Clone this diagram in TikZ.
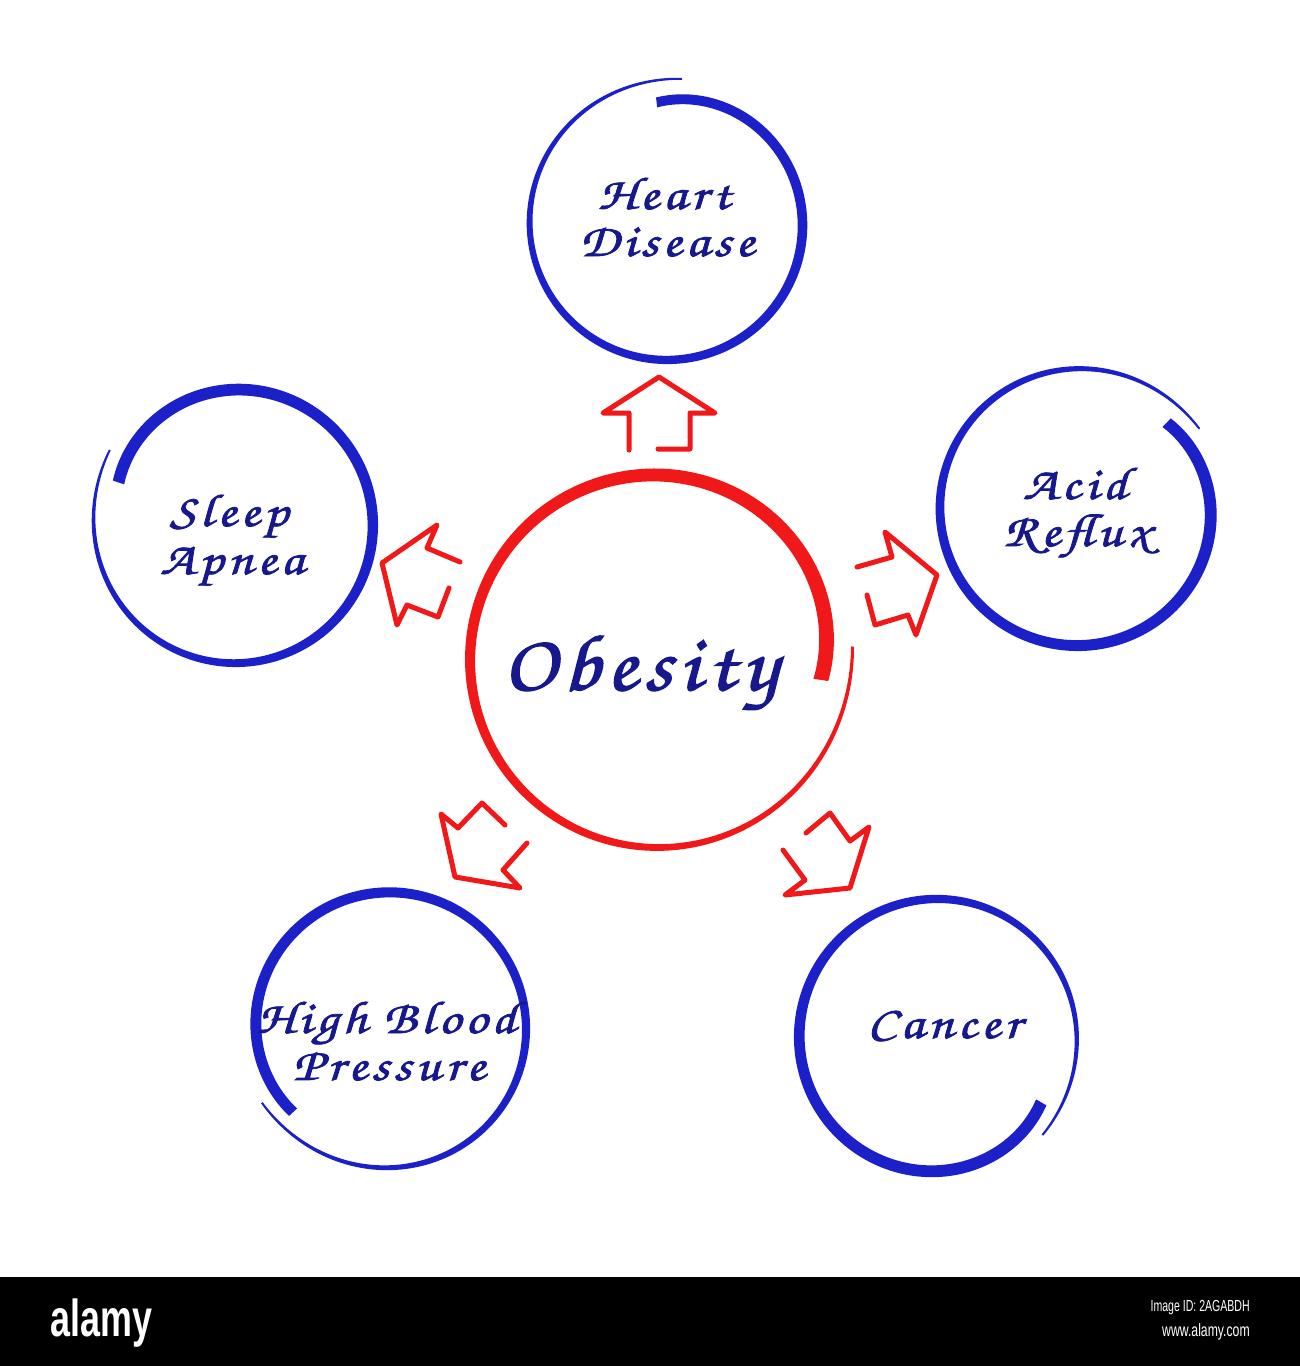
\documentclass[tikz,border=0pt]{standalone}
\usepackage{fontspec}
\newfontfamily\chorus{texgyrechorus-mediumitalic.otf}[FakeBold=1.6, LetterSpace=8]
\newfontfamily\wmfont{Liberation Sans}
\definecolor{ringblue}{RGB}{28,32,200}
\definecolor{txtblue}{RGB}{22,24,140}
\definecolor{ringred}{RGB}{240,24,24}
\def\taper{2.2}
% #1 cx, #2 cy, #3 start angle, #4 sweep, #5 radius, #6 inward start, #7 outward end, #8 start width, #9 end width
\newcommand{\brushring}[9]{%
  \fill[\ringcol] plot[smooth, domain=0:1, samples=160, variable=\t]
    ({#1 + (#5 - #6*pow(1-\t,8) + #7*pow(\t,10) + (#8 + (#9-#8)*pow(\t,\taper))/2)*cos(#3 + #4*\t)},
     {#2 - (#5 - #6*pow(1-\t,8) + #7*pow(\t,10) + (#8 + (#9-#8)*pow(\t,\taper))/2)*sin(#3 + #4*\t)})
    -- plot[smooth, domain=1:0, samples=160, variable=\t]
    ({#1 + (#5 - #6*pow(1-\t,8) + #7*pow(\t,10) - (#8 + (#9-#8)*pow(\t,\taper))/2)*cos(#3 + #4*\t)},
     {#2 - (#5 - #6*pow(1-\t,8) + #7*pow(\t,10) - (#8 + (#9-#8)*pow(\t,\taper))/2)*sin(#3 + #4*\t)})
    -- cycle;}
\tikzset{
  lbl/.style={font=\chorus\fontsize{23}{23}\selectfont, text=txtblue, anchor=base, inner sep=0pt,
    xscale=1.2, text height=0.62em, text depth=0.12em},
  bigl/.style={font=\chorus\fontsize{40}{40}\selectfont, text=txtblue, anchor=base, inner sep=0pt,
    xscale=1.1, text height=0.62em, text depth=0.12em},
  blockarrow/.style={draw=ringred, line width=2.5pt, line join=round, line cap=round},
  wm/.style={text=white, inner sep=0pt}
}
\begin{document}
\begin{tikzpicture}[x=0.5pt, y=-0.5pt]
\useasboundingbox (0,0) rectangle (1300,1366);
\fill[white] (0,0) rectangle (1300,1366);

% rings
\def\ringcol{ringblue}
\brushring{667}{223}{95}{-371}{137}{16}{8}{10}{2}
\brushring{235}{525}{160}{-371}{138}{14}{8}{12}{2}
\brushring{1078}{508}{44}{-371}{138}{15}{7}{12}{2}
\brushring{389}{1029}{221}{-371}{137}{10}{10}{11}{2}
\brushring{937}{1037}{-32}{-371}{138}{15}{6}{12}{2}
\def\ringcol{ringred}
\def\taper{1.3}
\brushring{657}{660}{-7}{371}{187}{22}{9}{15}{3}

% centres
\coordinate (cHeart) at (667,223);
\coordinate (cSleep) at (235,525);
\coordinate (cAcid) at (1078,508);
\coordinate (cHBP) at (389,1029);
\coordinate (cCancer) at (937,1037);
\coordinate (cObesity) at (657,660);

% labels
\node[lbl] (heart1) at (664,209) {Heart};
\node[lbl] (heart2) at (667,256) {Disease};
\node[lbl] (sleep1) at (229,526) {Sleep};
\node[lbl] (sleep2) at (232,574) {Apnea};
\node[lbl] (acid1) at (1075,499) {Acid};
\node[lbl] (acid2) at (1077,546) {Reflux};
\node[lbl] (hbp1) at (386,1033) {High Blood};
\node[lbl] (hbp2) at (389,1080) {Pressure};
\node[lbl] (cancer) at (944,1038) {Cancer};
\node[bigl] (obesity) at (640,690) {Obesity};

% block arrows
\draw[blockarrow] (629,450) -- (629,413) -- (603,413) -- (659,377) -- (715,413) -- (690,413) -- (690,449) -- (658,449);
\draw[blockarrow] (460,562) -- (427,548) -- (437,525) -- (382,563) -- (397,625) -- (407,605) -- (438,617) -- (449,588);
\draw[blockarrow] (857,567) -- (892,557) -- (885,532) -- (937,575) -- (916,635) -- (908,615) -- (875,625) -- (867,595);
\draw[blockarrow] (505,825) -- (482,803) -- (458,828) -- (441,814) -- (455,877) -- (520,888) -- (503,870) -- (527,843);
\draw[blockarrow] (806,833) -- (830,813) -- (850,841) -- (869,827) -- (850,888) -- (785,895) -- (805,880) -- (783,850);

% footer
\fill[black] (0,1277) rectangle (1300,1366);
\node[wm, anchor=base west, font=\wmfont\bfseries\fontsize{26}{26}\selectfont, xscale=0.69] (alamy) at (50,1336) {alamy};
\node[wm, anchor=base east, font=\wmfont\fontsize{8}{8}\selectfont, xscale=0.66] (imgid) at (1250,1311) {Image ID: 2AGABDH};
\node[wm, anchor=base east, font=\wmfont\fontsize{9}{9}\selectfont, xscale=0.68] (www) at (1250,1336) {www.alamy.com};
\end{tikzpicture}
\end{document}
